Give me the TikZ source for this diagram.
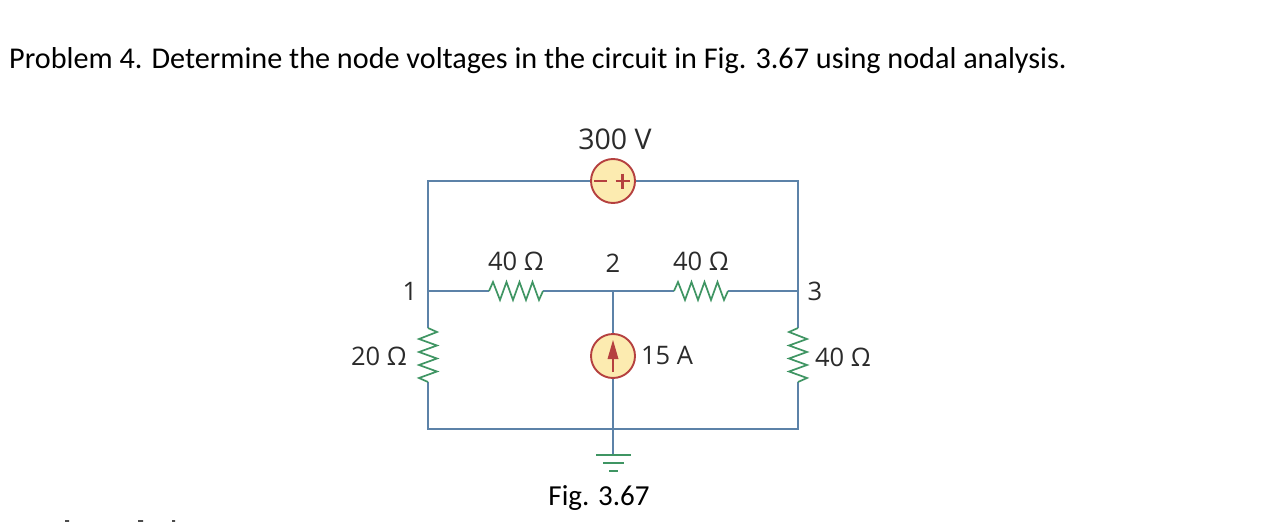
\documentclass[tikz,border=0pt]{standalone}
\usepackage{fontspec}
\setmainfont{Carlito}
\newfontfamily\lblfont{Open Sans}
\newcommand{\headsize}{\fontsize{30.2}{33}\selectfont}
\newcommand{\figsize}{\fontsize{29}{32}\selectfont}
\newcommand{\lblsize}{\fontsize{25.5}{28}\selectfont}
\newcommand{\lblbigsize}{\fontsize{28.5}{31}\selectfont}
\definecolor{wirecol}{HTML}{5C82A8}
\definecolor{rescol}{HTML}{3F9563}
\definecolor{srcedge}{HTML}{B5403F}
\definecolor{srcfill}{HTML}{FCEBB0}
\definecolor{txtcol}{HTML}{2B2B2B}
\tikzset{
  wire/.style={draw=wirecol,line width=1.7pt},
  reswire/.style={draw=rescol,line width=1.7pt,line join=miter},
  srcnode/.style={circle,draw=srcedge,fill=srcfill,line width=1.9pt,minimum size=44pt,inner sep=0pt},
  lbl/.style={font=\lblfont\lblsize,text=txtcol,inner sep=0pt,anchor=center},
  srcmark/.style={draw=srcedge,line width=2.2pt},
  gndline/.style={draw=rescol,line width=1.7pt},
  pics/zig/.style={code={
    \draw[reswire] (0,0) -- (4,-9) -- (11,9) -- (17.5,-9) -- (24,9) -- (30.5,-9) -- (37,9) -- (43.5,-9) -- (50,9) -- (54,0);
  }},
}
\begin{document}
\begin{tikzpicture}[x=1pt,y=-1pt]
\useasboundingbox (0,0) rectangle (1278,522);
\fill[white] (0,0) rectangle (1278,522);
% text
\node[anchor=west,inner sep=0pt,font=\headsize,text=black] (title) at (9,61) {Problem 4. Determine the node voltages in the circuit in Fig. 3.67 using nodal analysis.};
\node[inner sep=0pt,font=\figsize,text=black] (figlabel) at (599,498) {Fig. 3.67};
% nodes
\coordinate (tl) at (428,181);
\coordinate (tr) at (798,181);
\coordinate (bl) at (428,429);
\coordinate (br) at (798,429);
\coordinate (n1) at (428,291);
\coordinate (n2) at (613,291);
\coordinate (n3) at (798,291);
\coordinate (nb) at (613,429);
\coordinate (g) at (613,455);
\node[srcnode] (vs) at (613,181) {};
\node[srcnode] (cs) at (613,356) {};
\coordinate (r1a) at (489,291); \coordinate (r1b) at (543,291);
\coordinate (r2a) at (674,291); \coordinate (r2b) at (728,291);
\coordinate (r3a) at (428,328); \coordinate (r3b) at (428,382);
\coordinate (r4a) at (798,328); \coordinate (r4b) at (798,382);
% wires
\draw[wire] (vs.west) -- (tl) -- (n1) -- (r1a);
\draw[wire] (vs.east) -- (tr) -- (n3) -- (r2b);
\draw[wire] (r1b) -- (n2) -- (r2a);
\draw[wire] (n1) -- (r3a);
\draw[wire] (n3) -- (r4a);
\draw[wire] (r3b) -- (bl) -- (br) -- (r4b);
\draw[wire] (n2) -- (cs.north);
\draw[wire] (cs.south) -- (nb) -- (g);
% resistors
\pic at (r1a) {zig};
\pic at (r2a) {zig};
\pic[rotate=-90] at (r3a) {zig};
\pic[rotate=-90,yscale=-1] at (r4a) {zig};
% source marks
\draw[srcmark] (594,181) -- (607,181);
\draw[srcmark] (615.5,181) -- (630,181) (622.5,173.5) -- (622.5,188.5);
\draw[srcmark] (613,372) -- (613,356);
\fill[srcedge] (613,340) -- (618.5,359) -- (607.5,359) -- cycle;
% ground
\draw[gndline] (596,455) -- (631,455);
\draw[gndline] (603,463) -- (624,463);
\draw[gndline] (609,471) -- (618,471);
% labels
\node[lbl,font=\lblfont\lblbigsize] (l300) at (615,139) {300 V};
\node[lbl] (l40a) at (516,261) {40 Ω};
\node[lbl] (l2) at (613,263) {2};
\node[lbl] (l40b) at (701,261) {40 Ω};
\node[lbl] (l1) at (410,291) {1};
\node[lbl] (l3) at (815,291) {3};
\node[lbl] (l20) at (379,356) {20 Ω};
\node[lbl] (l15) at (667,355) {15 A};
\node[lbl] (l40c) at (843,357) {40 Ω};
% clipped marks at the lower edge
\fill[black!70] (65,520) rectangle (69,522) (138,520) rectangle (143,522) (172,520) rectangle (175,522);
\end{tikzpicture}
\end{document}
